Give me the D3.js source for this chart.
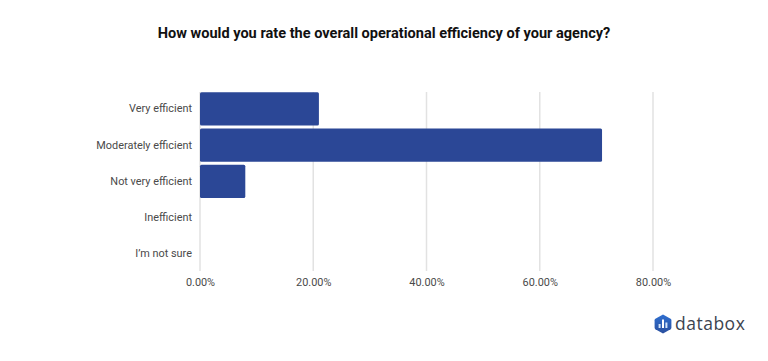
<!DOCTYPE html>
<html>
<head>
<meta charset="utf-8">
<script src="https://cdn.jsdelivr.net/npm/d3@7"></script>
<style>
	html, body { margin: 0; padding: 0; background: #fff; }
	svg { display: block; }
	text { font-family: Roboto, sans-serif; }
	.tick line, .domain { display: none; }
	.grid line { stroke: #e2e2e2; stroke-width: 1.5; }
	.axis text { font-size: 10.9px; fill: #4a4a4a; }
	.title { font-size: 14.55px; font-weight: 700; fill: #111; }
	.logo { font-family: "Open Sans", sans-serif; font-size: 17.5px; font-weight: 500; fill: #3d4450; letter-spacing: 0.5px; }
</style>
</head>
<body>
<svg id="chart" width="768" height="361"></svg>
<script>
const categories = ["Very efficient", "Moderately efficient", "Not very efficient", "Inefficient", "I\u2019m not sure"];
const values = [21, 71, 8, 0, 0];
const xTicks = [0, 20, 40, 60, 80];

const svg = d3.select("#chart");

let x = d3.scaleLinear().domain([0, 80]).range([200, 653]);
let y = d3.scaleBand().domain(categories).range([90.8, 272]).paddingInner(0.08).paddingOuter(0.04);

svg.append("text")
	.attr("class", "title")
	.attr("x", 384)
	.attr("y", 38)
	.attr("text-anchor", "middle")
	.text("How would you rate the overall operational efficiency of your agency?");

// gridlines
svg.append("g")
	.attr("class", "grid")
	.selectAll("line")
	.data(xTicks)
	.enter()
	.append("line")
	.attr("x1", d => x(d))
	.attr("x2", d => x(d))
	.attr("y1", 92)
	.attr("y2", 271);

svg.append("g")
	.selectAll("rect")
	.data(values)
	.enter()
	.append("rect")
	.attr("x", x(0))
	.attr("y", (d, i) => y(categories[i]))
	.attr("width", d => x(d) - x(0))
	.attr("height", y.bandwidth())
	.attr("rx", 1.5)
	.attr("fill", "#2b4796");

svg.append("g")
	.attr("class", "axis")
	.attr("transform", "translate(192,0)")
	.call(d3.axisLeft(y).tickSize(0).tickPadding(0));

svg.append("g")
	.attr("class", "axis")
	.attr("transform", "translate(0,275)")
	.call(d3.axisBottom(x).tickValues(xTicks).tickSize(0).tickPadding(3).tickFormat(d => d3.format(".2f")(d) + "%"));

// databox logo
let defs = svg.append("defs");
let grad = defs.append("linearGradient").attr("id", "logoFill").attr("x1", 0).attr("y1", 0).attr("x2", 0).attr("y2", 1);
grad.append("stop").attr("offset", "0%").attr("stop-color", "#2f6fd0");
grad.append("stop").attr("offset", "100%").attr("stop-color", "#2a4f9e");

let logo = svg.append("g").attr("transform", "translate(663,324)");
logo.append("path")
	.attr("d", "M0,-9.5 L7.6,-5.2 Q8.4,-4.7 8.4,-3.8 L8.4,3.8 Q8.4,4.7 7.6,5.2 L0,9.5 L-7.6,5.2 Q-8.4,4.7 -8.4,3.8 L-8.4,-3.8 Q-8.4,-4.7 -7.6,-5.2 Z")
	.attr("fill", "url(#logoFill)");
logo.append("rect").attr("x", -4.4).attr("y", 0).attr("width", 2).attr("height", 4).attr("fill", "#cfe3fa");
logo.append("rect").attr("x", -1).attr("y", -4.5).attr("width", 2).attr("height", 8.5).attr("fill", "#fff");
logo.append("rect").attr("x", 2.4).attr("y", -1.5).attr("width", 2).attr("height", 5.5).attr("fill", "#cfe3fa");

svg.append("text")
	.attr("class", "logo")
	.attr("x", 675)
	.attr("y", 330)
	.text("databox");
</script>
</body>
</html>
